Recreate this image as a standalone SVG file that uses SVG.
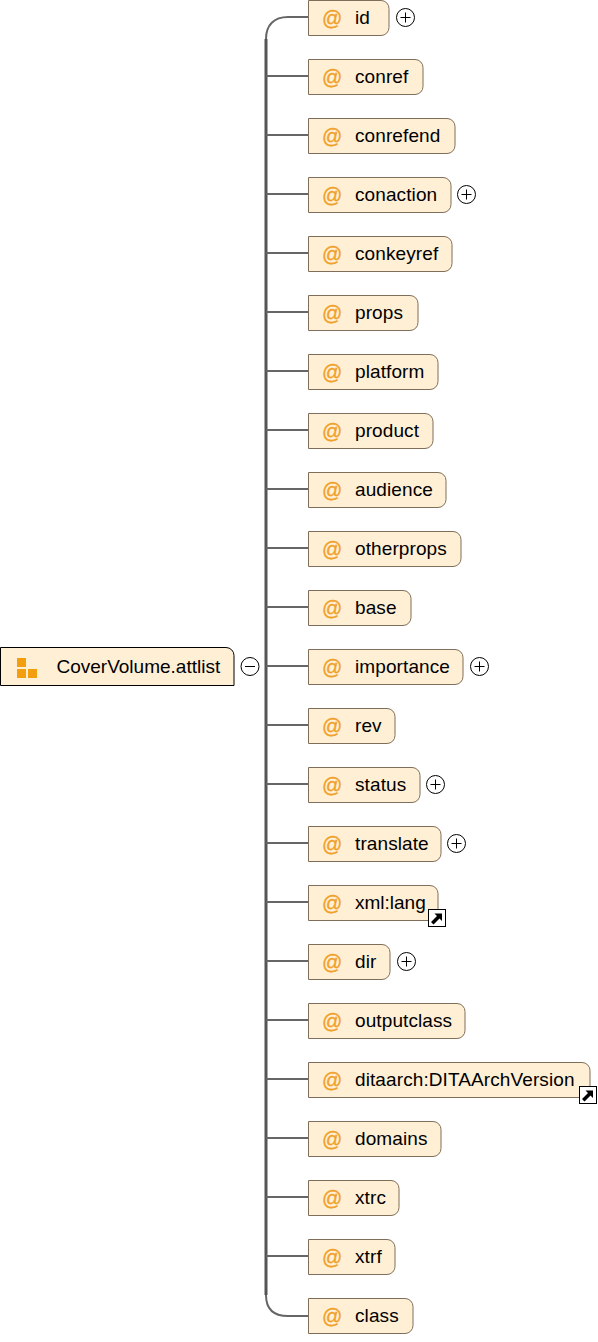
<svg xmlns="http://www.w3.org/2000/svg" width="598" height="1342" viewBox="0 0 598 1342">
<style>
text{font-family:"Liberation Sans",Arial,sans-serif;font-size:19px;fill:#000;letter-spacing:.1px}
.b{fill:#ffefd5;stroke:#7f6f5a;stroke-width:1}
.r{fill:#ffefd5;stroke:#000;stroke-width:1}
text.a{fill:#f0a028;stroke:#f0a028;stroke-width:.3;font-size:20px;letter-spacing:0}
text.n{letter-spacing:0}
.c{fill:none;stroke:#666;stroke-width:2}
.s{fill:none;stroke:#555;stroke-width:3}
.t{fill:#fff;stroke:#000;stroke-width:1}
.g{fill:none;stroke:#000;stroke-width:1}
.i{fill:#f29e0f}
</style>
<defs>
<g id="plus"><circle class="t" cx="0" cy="0" r="9"/><path class="g" d="M-5 0H5M0-5V5"/></g>
<g id="link"><rect x="0.5" y="0.5" width="17" height="17" fill="#fff" stroke="#000"/><path d="M3 13l6-6-2.500-2.500H14V12l-2.500-2.500-6 6z" fill="#000"/></g>
</defs>
<g id="connectors">
<path class="s" d="M266 39V1295"/>
<path class="c" d="M308 17H288C274 17 266 25 266 39M266 1295C266 1309 274 1316 288 1316H308"/>
<path class="c" d="M266 76H308M266 135H308M266 194H308M266 253H308M266 312H308M266 371H308M266 430H308M266 489H308M266 548H308M266 607H308M266 666H308M266 725H308M266 784H308M266 843H308M266 902H308M266 961H308M266 1020H308M266 1079H308M266 1138H308M266 1197H308M266 1256H308"/>
</g>
<g id="root"><path class="r" d="M0.500 647.500H226a8 8 0 0 1 8 8V685.500H0.500z"/>
<rect class="i" x="17" y="658" width="9" height="9"/><rect class="i" x="17" y="669" width="9" height="9"/><rect class="i" x="28" y="669" width="9" height="9"/>
<text class="n" x="56.500" y="673">CoverVolume.attlist</text>
<circle class="t" cx="250" cy="666.500" r="9"/><path class="g" d="M245 666.500H255"/></g>
<g id="n-id"><path class="b" d="M308.500 0.500H381a8 8 0 0 1 8 8V27.500a8 8 0 0 1-8 8H308.500z"/><text class="a" x="322" y="25">@</text><text x="355" y="24">id</text><use href="#plus" x="405.500" y="17.500"/></g>
<g id="n-conref"><path class="b" d="M308.500 59.500H415a8 8 0 0 1 8 8V86.500a8 8 0 0 1-8 8H308.500z"/><text class="a" x="322" y="84">@</text><text x="355" y="83">conref</text></g>
<g id="n-conrefend"><path class="b" d="M308.500 118.500H447a8 8 0 0 1 8 8V145.500a8 8 0 0 1-8 8H308.500z"/><text class="a" x="322" y="143">@</text><text x="355" y="142">conrefend</text></g>
<g id="n-conaction"><path class="b" d="M308.500 177.500H443a8 8 0 0 1 8 8V204.500a8 8 0 0 1-8 8H308.500z"/><text class="a" x="322" y="202">@</text><text x="355" y="201">conaction</text><use href="#plus" x="466.500" y="194.500"/></g>
<g id="n-conkeyref"><path class="b" d="M308.500 236.500H444a8 8 0 0 1 8 8V263.500a8 8 0 0 1-8 8H308.500z"/><text class="a" x="322" y="261">@</text><text x="355" y="260">conkeyref</text></g>
<g id="n-props"><path class="b" d="M308.500 295.500H410a8 8 0 0 1 8 8V322.500a8 8 0 0 1-8 8H308.500z"/><text class="a" x="322" y="320">@</text><text x="355" y="319">props</text></g>
<g id="n-platform"><path class="b" d="M308.500 354.500H430a8 8 0 0 1 8 8V381.500a8 8 0 0 1-8 8H308.500z"/><text class="a" x="322" y="379">@</text><text x="355" y="378">platform</text></g>
<g id="n-product"><path class="b" d="M308.500 413.500H425a8 8 0 0 1 8 8V440.500a8 8 0 0 1-8 8H308.500z"/><text class="a" x="322" y="438">@</text><text x="355" y="437">product</text></g>
<g id="n-audience"><path class="b" d="M308.500 472.500H438a8 8 0 0 1 8 8V499.500a8 8 0 0 1-8 8H308.500z"/><text class="a" x="322" y="497">@</text><text x="355" y="496">audience</text></g>
<g id="n-otherprops"><path class="b" d="M308.500 531.500H453a8 8 0 0 1 8 8V558.500a8 8 0 0 1-8 8H308.500z"/><text class="a" x="322" y="556">@</text><text x="355" y="555">otherprops</text></g>
<g id="n-base"><path class="b" d="M308.500 590.500H403a8 8 0 0 1 8 8V617.500a8 8 0 0 1-8 8H308.500z"/><text class="a" x="322" y="615">@</text><text x="355" y="614">base</text></g>
<g id="n-importance"><path class="b" d="M308.500 649.500H455a8 8 0 0 1 8 8V676.500a8 8 0 0 1-8 8H308.500z"/><text class="a" x="322" y="674">@</text><text x="355" y="673">importance</text><use href="#plus" x="479.500" y="666.500"/></g>
<g id="n-rev"><path class="b" d="M308.500 708.500H387a8 8 0 0 1 8 8V735.500a8 8 0 0 1-8 8H308.500z"/><text class="a" x="322" y="733">@</text><text x="355" y="732">rev</text></g>
<g id="n-status"><path class="b" d="M308.500 767.500H412a8 8 0 0 1 8 8V794.500a8 8 0 0 1-8 8H308.500z"/><text class="a" x="322" y="792">@</text><text x="355" y="791">status</text><use href="#plus" x="435.500" y="784.500"/></g>
<g id="n-translate"><path class="b" d="M308.500 826.500H433a8 8 0 0 1 8 8V853.500a8 8 0 0 1-8 8H308.500z"/><text class="a" x="322" y="851">@</text><text x="355" y="850">translate</text><use href="#plus" x="456.500" y="843.500"/></g>
<g id="n-xml-lang"><path class="b" d="M308.500 885.500H430a8 8 0 0 1 8 8V912.500a8 8 0 0 1-8 8H308.500z"/><text class="a" x="322" y="910">@</text><text class="n" x="355" y="909">xml:lang</text><use href="#link" x="428" y="909"/></g>
<g id="n-dir"><path class="b" d="M308.500 944.500H382a8 8 0 0 1 8 8V971.500a8 8 0 0 1-8 8H308.500z"/><text class="a" x="322" y="969">@</text><text x="355" y="968">dir</text><use href="#plus" x="406.500" y="961.500"/></g>
<g id="n-outputclass"><path class="b" d="M308.500 1003.500H457a8 8 0 0 1 8 8V1030.500a8 8 0 0 1-8 8H308.500z"/><text class="a" x="322" y="1028">@</text><text x="355" y="1027">outputclass</text></g>
<g id="n-ditaarch"><path class="b" d="M308.500 1062.500H582a8 8 0 0 1 8 8V1089.500a8 8 0 0 1-8 8H308.500z"/><text class="a" x="322" y="1087">@</text><text x="355" y="1086">ditaarch:DITAArchVersion</text><use href="#link" x="579" y="1086"/></g>
<g id="n-domains"><path class="b" d="M308.500 1121.500H433a8 8 0 0 1 8 8V1148.500a8 8 0 0 1-8 8H308.500z"/><text class="a" x="322" y="1146">@</text><text x="355" y="1145">domains</text></g>
<g id="n-xtrc"><path class="b" d="M308.500 1180.500H391a8 8 0 0 1 8 8V1207.500a8 8 0 0 1-8 8H308.500z"/><text class="a" x="322" y="1205">@</text><text x="355" y="1204">xtrc</text></g>
<g id="n-xtrf"><path class="b" d="M308.500 1239.500H387a8 8 0 0 1 8 8V1266.500a8 8 0 0 1-8 8H308.500z"/><text class="a" x="322" y="1264">@</text><text x="355" y="1263">xtrf</text></g>
<g id="n-class"><path class="b" d="M308.500 1298.500H405a8 8 0 0 1 8 8V1325.500a8 8 0 0 1-8 8H308.500z"/><text class="a" x="322" y="1323">@</text><text x="355" y="1322">class</text></g>
</svg>
